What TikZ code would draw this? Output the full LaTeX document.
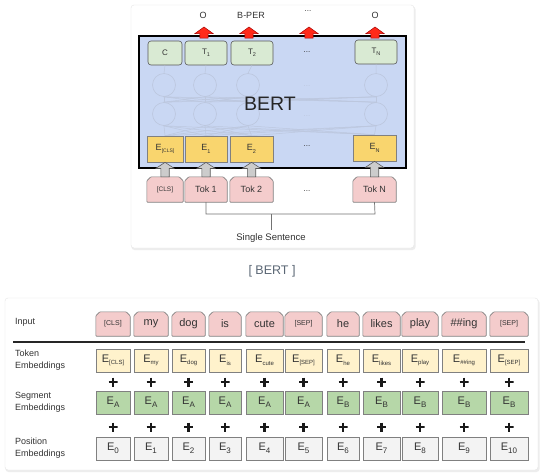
\documentclass[tikz,border=0pt]{standalone}
\usepackage{fontspec}
\setmainfont{Liberation Sans}
\usetikzlibrary{calc}
\definecolor{bertblue}{HTML}{C9D7F3}
\definecolor{tgreen}{HTML}{D9EAD3}
\definecolor{eyellow}{HTML}{F9D56E}
\definecolor{tokpink}{HTML}{F4CCCC}
\definecolor{lyellow}{HTML}{FFF2CC}
\definecolor{sgreen}{HTML}{B6D7A8}
\definecolor{pgray}{HTML}{F3F3F3}
\definecolor{bordergray}{HTML}{808080}
\definecolor{arrred}{HTML}{FF2A1A}
\definecolor{arrdark}{HTML}{A80000}
\definecolor{faint}{HTML}{BCC7DE}
\definecolor{captiongray}{HTML}{5B6775}
\definecolor{txt}{HTML}{333333}
\pgfdeclarelayer{cards}\pgfdeclarelayer{shapes}
\pgfsetlayers{cards,shapes,main}
\newcommand\sm{\fontsize{7}{8}\selectfont}
\newcommand\Esub[2][6.5]{E\raisebox{-2.6pt}{\fontsize{#1}{7}\selectfont #2}}
\newcommand\Tsub[1]{T\raisebox{-2pt}{\fontsize{5.5}{6}\selectfont #1}}
\newcommand\chamf[2]{%
 \begin{pgfonlayer}{shapes}
 \filldraw[tokshape] (#1.south west) -- ([yshift=-#2]#1.north west) -- ([xshift=#2]#1.north west) -- ([xshift=-#2]#1.north east) -- ([yshift=-#2]#1.north east) -- (#1.south east) -- cycle;
 \end{pgfonlayer}}
% block arrow pointing up from base coordinate #2 to tip coordinate #3; #4 head length
\newcommand\blockup[4][6pt]{%
 \path[#2] let \p1=(#3), \p2=(#4) in
 (\x2-4.2pt,\y1) -- (\x2-4.2pt,\y2-#1) -- (\x2-9pt,\y2-#1) -- (\x2,\y2) -- (\x2+9pt,\y2-#1) -- (\x2+4.2pt,\y2-#1) -- (\x2+4.2pt,\y1) -- cycle;}
\tikzset{
 box/.style={rectangle, inner sep=0pt, draw=bordergray, line width=0.6pt, text=txt},
 tbox/.style={box, fill=tgreen, rounded corners=3pt, draw=black!65, font=\fontsize{8}{9}\selectfont},
 ebox/.style={box, fill=eyellow, font=\fontsize{9}{10}\selectfont},
 tokbox/.style={rectangle, inner sep=0pt, text=txt, font=\fontsize{9}{10}\selectfont},
 tokshape/.style={fill=tokpink, draw=bordergray, line width=0.6pt, rounded corners=0.8pt},
 lbl/.style={text=txt, font=\fontsize{9}{11}\selectfont, inner sep=0pt},
 dots/.style={text=txt, font=\fontsize{8}{9}\selectfont, inner sep=0pt},
 redarr/.style={fill=arrred, draw=arrdark, line width=0.5pt},
 grayarr/.style={fill=black!20, draw=black!65, line width=0.6pt},
 hid/.style={circle, draw=faint, line width=0.6pt, minimum size=23pt, inner sep=0pt},
 faintline/.style={draw=faint, line width=0.5pt},
 bemb/.style={box, font=\fontsize{11}{12}\selectfont},
 plus/.style={rectangle, minimum size=9pt, inner sep=0pt, path picture={
   \draw[line width=2.6pt, black!90] (path picture bounding box.north) -- (path picture bounding box.south)
     (path picture bounding box.west) -- (path picture bounding box.east);}},
}
\begin{document}
\begin{tikzpicture}[x=1pt,y=-1pt]
\useasboundingbox (0,0) rectangle (549,475);
% ---------- cards ----------
\begin{pgfonlayer}{cards}
 \fill[white] (0,0) rectangle (549,475);
 \fill[black!7, rounded corners=3pt] (131.5,6.5) rectangle (415.5,250);
 \filldraw[fill=white, draw=black!10, rounded corners=3pt] (131,5) rectangle (414,248);
 \fill[black!7, rounded corners=3pt] (5.5,299.5) rectangle (539.5,472);
 \filldraw[fill=white, draw=black!10, rounded corners=3pt] (5,298) rectangle (538,470);
 \filldraw[fill=bertblue, draw=black, line width=1.5pt] (139,36) rectangle (406,168);
\end{pgfonlayer}
% ---------- top diagram ----------
\node[tbox, minimum width=34pt, minimum height=24pt] (c) at (165,53) {C};
\node[tbox, minimum width=42pt, minimum height=24pt] (t1) at (206,53) {\Tsub{1}};
\node[tbox, minimum width=42pt, minimum height=24pt] (t2) at (252,53) {\Tsub{2}};
\node[dots] (tdots) at (307,52) {...};
\node[tbox, minimum width=42pt, minimum height=24pt] (tn) at (376,52) {\Tsub{N}};

\node[lbl] (o1) at (203,15) {O};
\node[lbl] (o2) at (251,15) {B-PER};
\node[dots] (o3) at (308,11) {...};
\node[lbl] (o4) at (375,15) {O};

\coordinate (rb1) at (204,38); \coordinate (rt1) at (204,27);
\coordinate (rb2) at (249,38); \coordinate (rt2) at (249,27);
\coordinate (rb3) at (309,38); \coordinate (rt3) at (309,27);
\coordinate (rb4) at (375,38); \coordinate (rt4) at (375,27);
\blockup[6.5pt]{redarr}{rb1}{rt1}
\blockup[6.5pt]{redarr}{rb2}{rt2}
\blockup[6.5pt]{redarr}{rb3}{rt3}
\blockup[6.5pt]{redarr}{rb4}{rt4}

\node[ebox, minimum width=36pt, minimum height=26pt] (ecls) at (165,149) {\Esub[5]{[CLS]}};
\node[ebox, minimum width=42pt, minimum height=26pt] (e1) at (206,149) {\Esub[5.5]{1}};
\node[ebox, minimum width=43pt, minimum height=26pt] (e2) at (251.5,149) {\Esub[5.5]{2}};
\node[dots] (edots) at (307,146) {...};
\node[ebox, minimum width=43pt, minimum height=26pt] (en) at (374.5,148) {\Esub[5.5]{N}};

% hidden layers (faint)
\node[hid] (ha) at (164,85) {};
\node[hid] (hb) at (205,85) {};
\node[hid] (hc) at (248,85) {};
\node[hid] (hd) at (376,85) {};
\node[hid] (ga) at (164,114) {};
\node[hid] (gb) at (205,114) {};
\node[hid] (gc) at (248,114) {};
\node[hid] (gd) at (376,114) {};
\node[dots, text=faint] (hdots) at (307,86) {...};
\node[dots, text=faint] (gdots) at (307,116) {...};
\draw[faintline] (c.south) -- (ha.north) (t1.south) -- (hb.north) (t2.south) -- (hc.north) (tn.south) -- (hd.north);
\foreach \u in {a,b,c,d}{
 \foreach \v in {a,b,c,d}{
  \draw[faintline] (h\u.south) -- (g\v.north);
 }}
\foreach \u in {a,b,c,d}{
 \foreach \v in {ecls,e1,e2,en}{
  \draw[faintline] (g\u.south) -- (\v.north);
 }}
\node[font=\fontsize{19.5}{20}\selectfont, text=black!85, inner sep=0pt] (bert) at (270,104) {BERT};

\node[tokbox, minimum width=36pt, minimum height=25pt] (kcls) at (165,189.5) {\fontsize{6.5}{7}\selectfont [CLS]};
\node[tokbox, minimum width=42pt, minimum height=25pt] (k1) at (206,189.5) {Tok 1};
\node[tokbox, minimum width=43pt, minimum height=25pt] (k2) at (251.5,189.5) {Tok 2};
\node[dots] (kdots) at (307,191) {...};
\node[tokbox, minimum width=43pt, minimum height=25pt] (kn) at (374.5,189.5) {Tok N};
\chamf{kcls}{4pt}\chamf{k1}{4pt}\chamf{k2}{4pt}\chamf{kn}{4pt}

\blockup{grayarr}{kcls.north}{ecls.south}
\blockup{grayarr}{k1.north}{e1.south}
\blockup{grayarr}{k2.north}{e2.south}
\blockup{grayarr}{kn.north}{en.south}

\node[lbl, font=\fontsize{9.5}{11}\selectfont] (single) at (271,238) {Single Sentence};
\coordinate (bl) at (206,214); \coordinate (br) at (375,214); \coordinate (bm) at (271,214);
\draw[black!55, line width=0.7pt] (k1.south) -- (bl) -- (br) -- (kn.south);
\draw[black!55, line width=0.7pt] (bm) -- ([yshift=3pt]single.north);

\node[text=captiongray, font=\fontsize{12.5}{14}\selectfont, inner sep=0pt] (cap) at (272,271) {[ BERT ]};

% ---------- bottom diagram ----------
\node[lbl, anchor=west] (linput) at (15,322) {Input};
\node[lbl, anchor=west, align=left, font=\fontsize{9}{12}\selectfont] (ltok) at (15,360.5) {Token\\Embeddings};
\node[lbl, anchor=west, align=left, font=\fontsize{9}{12}\selectfont] (lseg) at (15,402) {Segment\\Embeddings};
\node[lbl, anchor=west, align=left, font=\fontsize{9}{12}\selectfont] (lpos) at (15,448) {Position\\Embeddings};
\coordinate (sepl) at (13,342); \coordinate (sepr) at (525,342);
\draw[line width=1.8pt, black!85] (sepl) -- (sepr);

\foreach \i/\a/\b/\tin/\tsub/\seg/\pos in {
 1/96/130/{\sm[CLS]}/{[CLS]}/A/0,
 2/134/168/my/my/A/1,
 3/172/205/dog/dog/A/2,
 4/209/241/is/is/A/3,
 5/246/283/cute/cute/A/4,
 6/285/322/{\sm[SEP]}/{[SEP]}/A/5,
 7/327/359/he/he/B/6,
 8/363/400/likes/likes/B/7,
 9/402/438/play/play/B/8,
 10/442/486/{\#\#ing}/{\#\#ing}/B/9,
 11/490/528/{\sm[SEP]}/{[SEP]}/B/10}{
 \pgfmathsetmacro\w{\b-\a}
 \pgfmathsetmacro\cx{(\a+\b)/2}
 \node[tokbox, font=\fontsize{11}{12}\selectfont, minimum width=\w pt, minimum height=24pt] (in\i) at (\cx,324) {\tin};
 \chamf{in\i}{4pt}
 \node[bemb, fill=lyellow, minimum width=\w pt, minimum height=23pt] (te\i) at (\cx,360.5) {\Esub[6]{\tsub}};
 \node[plus] (pa\i) at (\cx,382) {};
 \node[bemb, fill=sgreen, draw=black!50, minimum width=\w pt, minimum height=23pt] (se\i) at (\cx,402.5) {\Esub[8]{\seg}};
 \node[plus] (pb\i) at (\cx,427) {};
 \node[bemb, fill=pgray, minimum width=\w pt, minimum height=23pt] (pe\i) at (\cx,448.5) {\Esub[8]{\pos}};
}
\end{tikzpicture}
\end{document}
